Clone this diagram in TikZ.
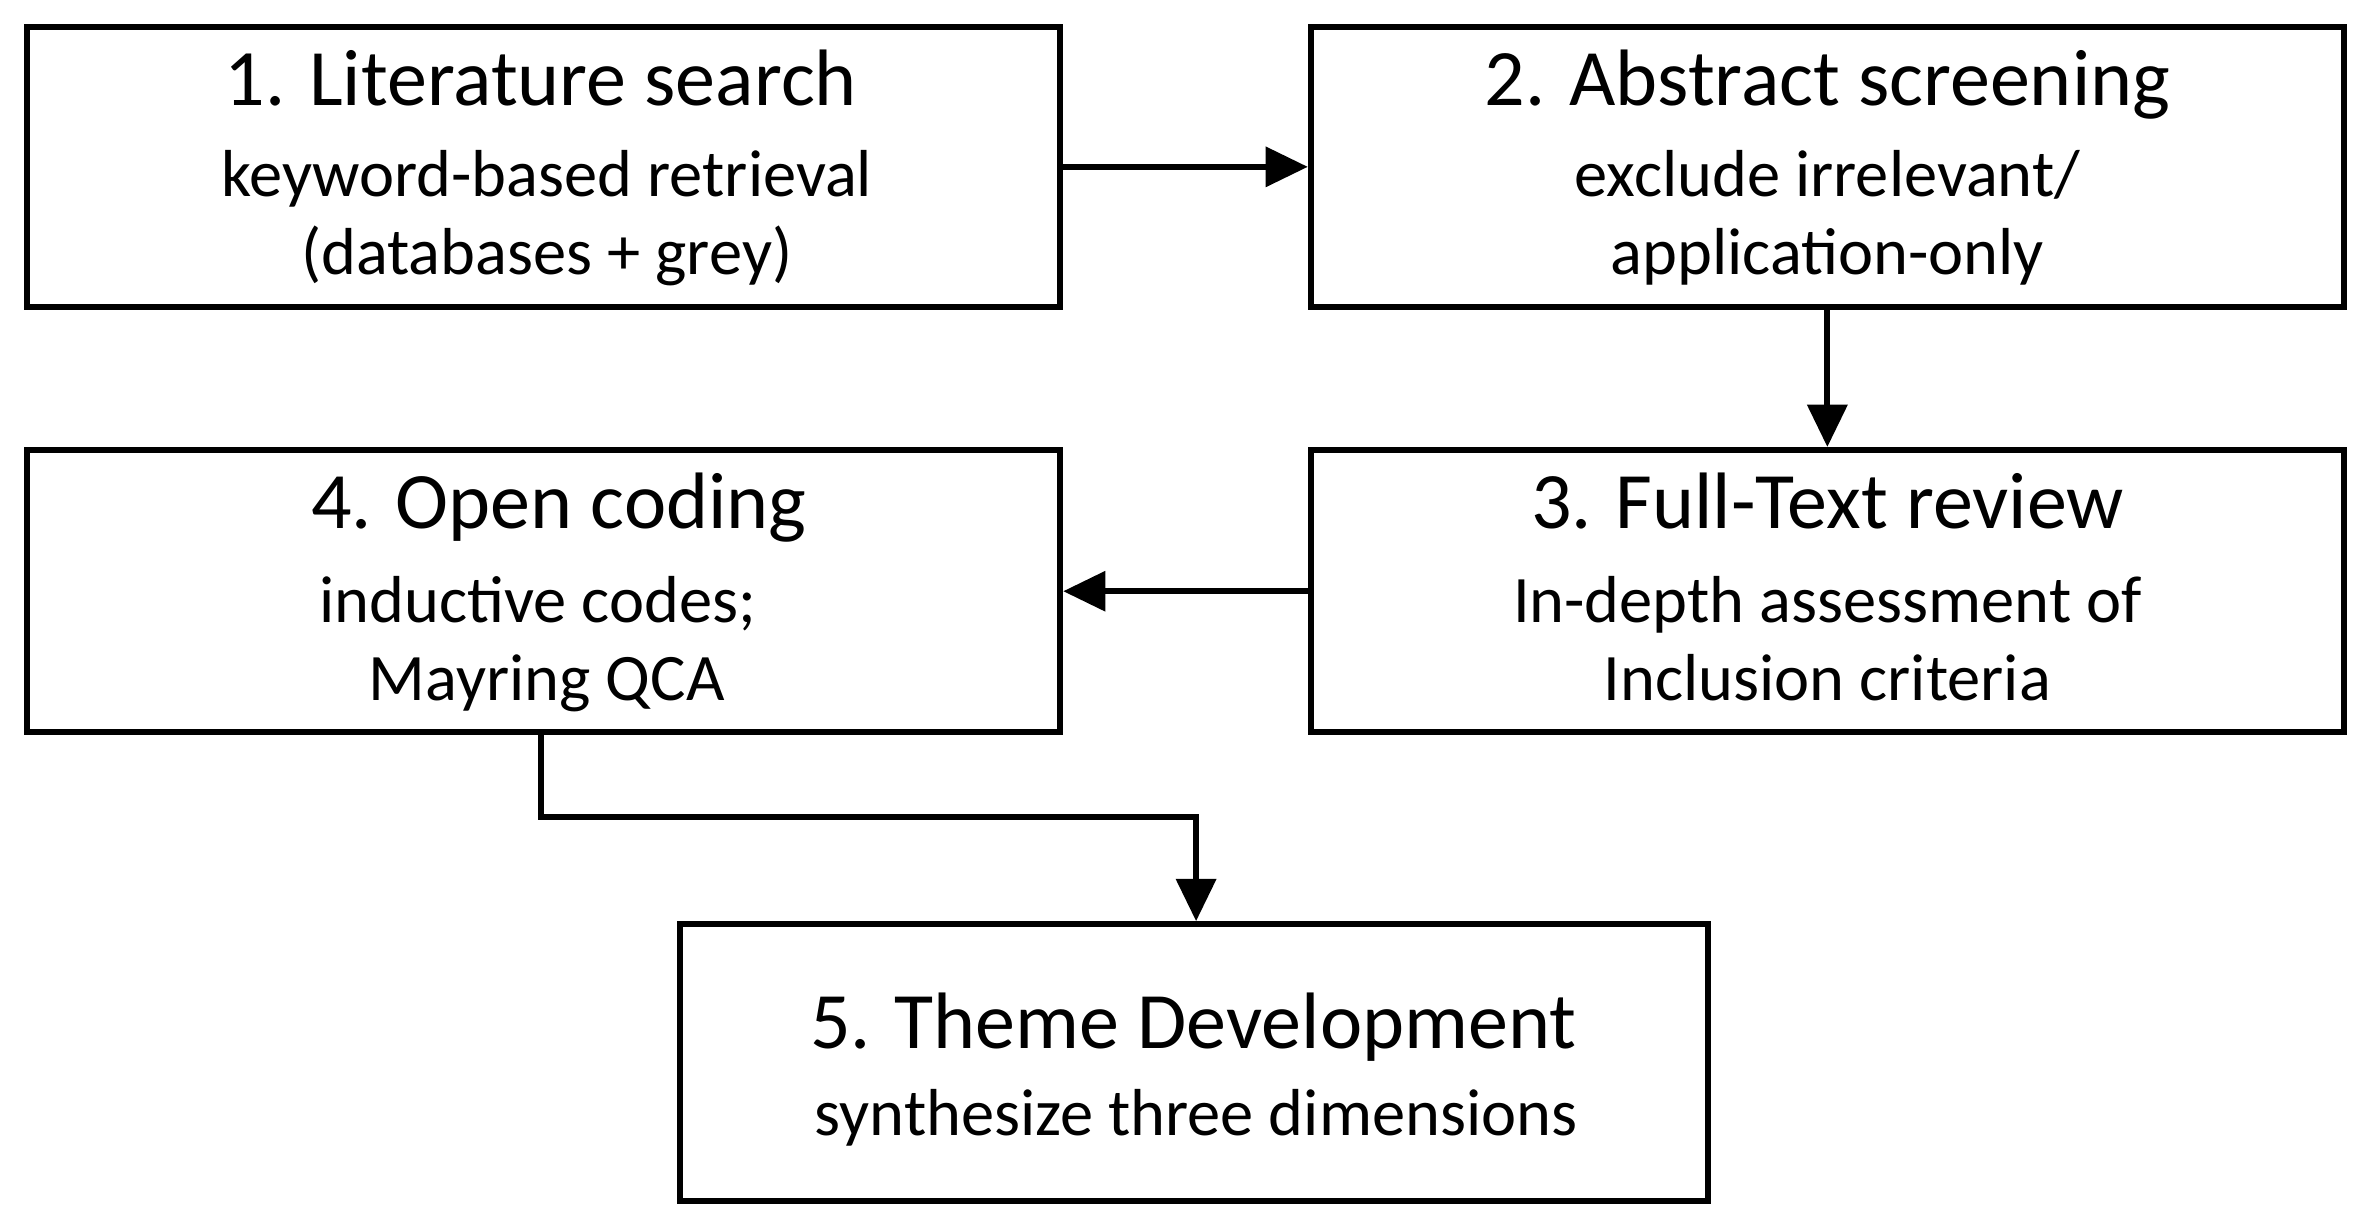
\documentclass[tikz,border=0pt]{standalone}
\usepackage{fontspec}
\setmainfont{Carlito}
\usetikzlibrary{arrows.meta}
\begin{document}
\begin{tikzpicture}[x=1pt,y=1pt,
  box/.style={draw,line width=2pt},
  ttl/.style={font=\fontsize{26.5}{30}\selectfont,anchor=base},
  sub/.style={font=\fontsize{22}{26}\selectfont,anchor=base},
  arr/.style={line width=2pt,-{Triangle[length=14pt,width=13pt]}}]
\useasboundingbox (0,0) rectangle (784,406);
\node[box,minimum width=342pt,minimum height=92.5pt] (b1) at (180,350.75) {};
\node[box,minimum width=342pt,minimum height=92.5pt] (b2) at (605,350.75) {};
\node[box,minimum width=342pt,minimum height=93.5pt] (b3) at (605,210.25) {};
\node[box,minimum width=342pt,minimum height=93.5pt] (b4) at (180,210.25) {};
\node[box,minimum width=340.5pt,minimum height=91.5pt] (b5) at (395.25,54.25) {};
% texts
\node[ttl] (t1) at (179,371) {1. Literature search};
\node[sub] (s1a) at (181,341) {keyword-based retrieval};
\node[sub] (s1b) at (181,315) {(databases + grey)};
\node[ttl] (t2) at (605,371) {2. Abstract screening};
\node[sub] (s2a) at (605,341) {exclude irrelevant/};
\node[sub] (s2b) at (605,315) {application-only};
\node[ttl] (t3) at (605,231) {3. Full-Text review};
\node[sub] (s3a) at (605,200) {In-depth assessment of};
\node[sub] (s3b) at (605,174) {Inclusion criteria};
\node[ttl] (t4) at (185,231) {4. Open coding};
\node[sub] (s4a) at (178,200) {inductive codes;};
\node[sub] (s4b) at (181,174) {Mayring QCA};
\node[ttl] (t5) at (395,59) {5. Theme Development};
\node[sub] (s5) at (396,30) {synthesize three dimensions};
% arrows
\draw[arr] (b1.east) -- (b2.west);
\draw[arr] (b2.south -| 605,0) -- (b3.north);
\draw[arr] (b3.west) -- (b4.east);
\coordinate (c1) at (179,135.5);
\coordinate (c2) at (396,135.5);
\draw[arr] (b4.south -| c1) -- (c1) -- (c2) -- (b5.north -| c2);
\end{tikzpicture}
\end{document}
